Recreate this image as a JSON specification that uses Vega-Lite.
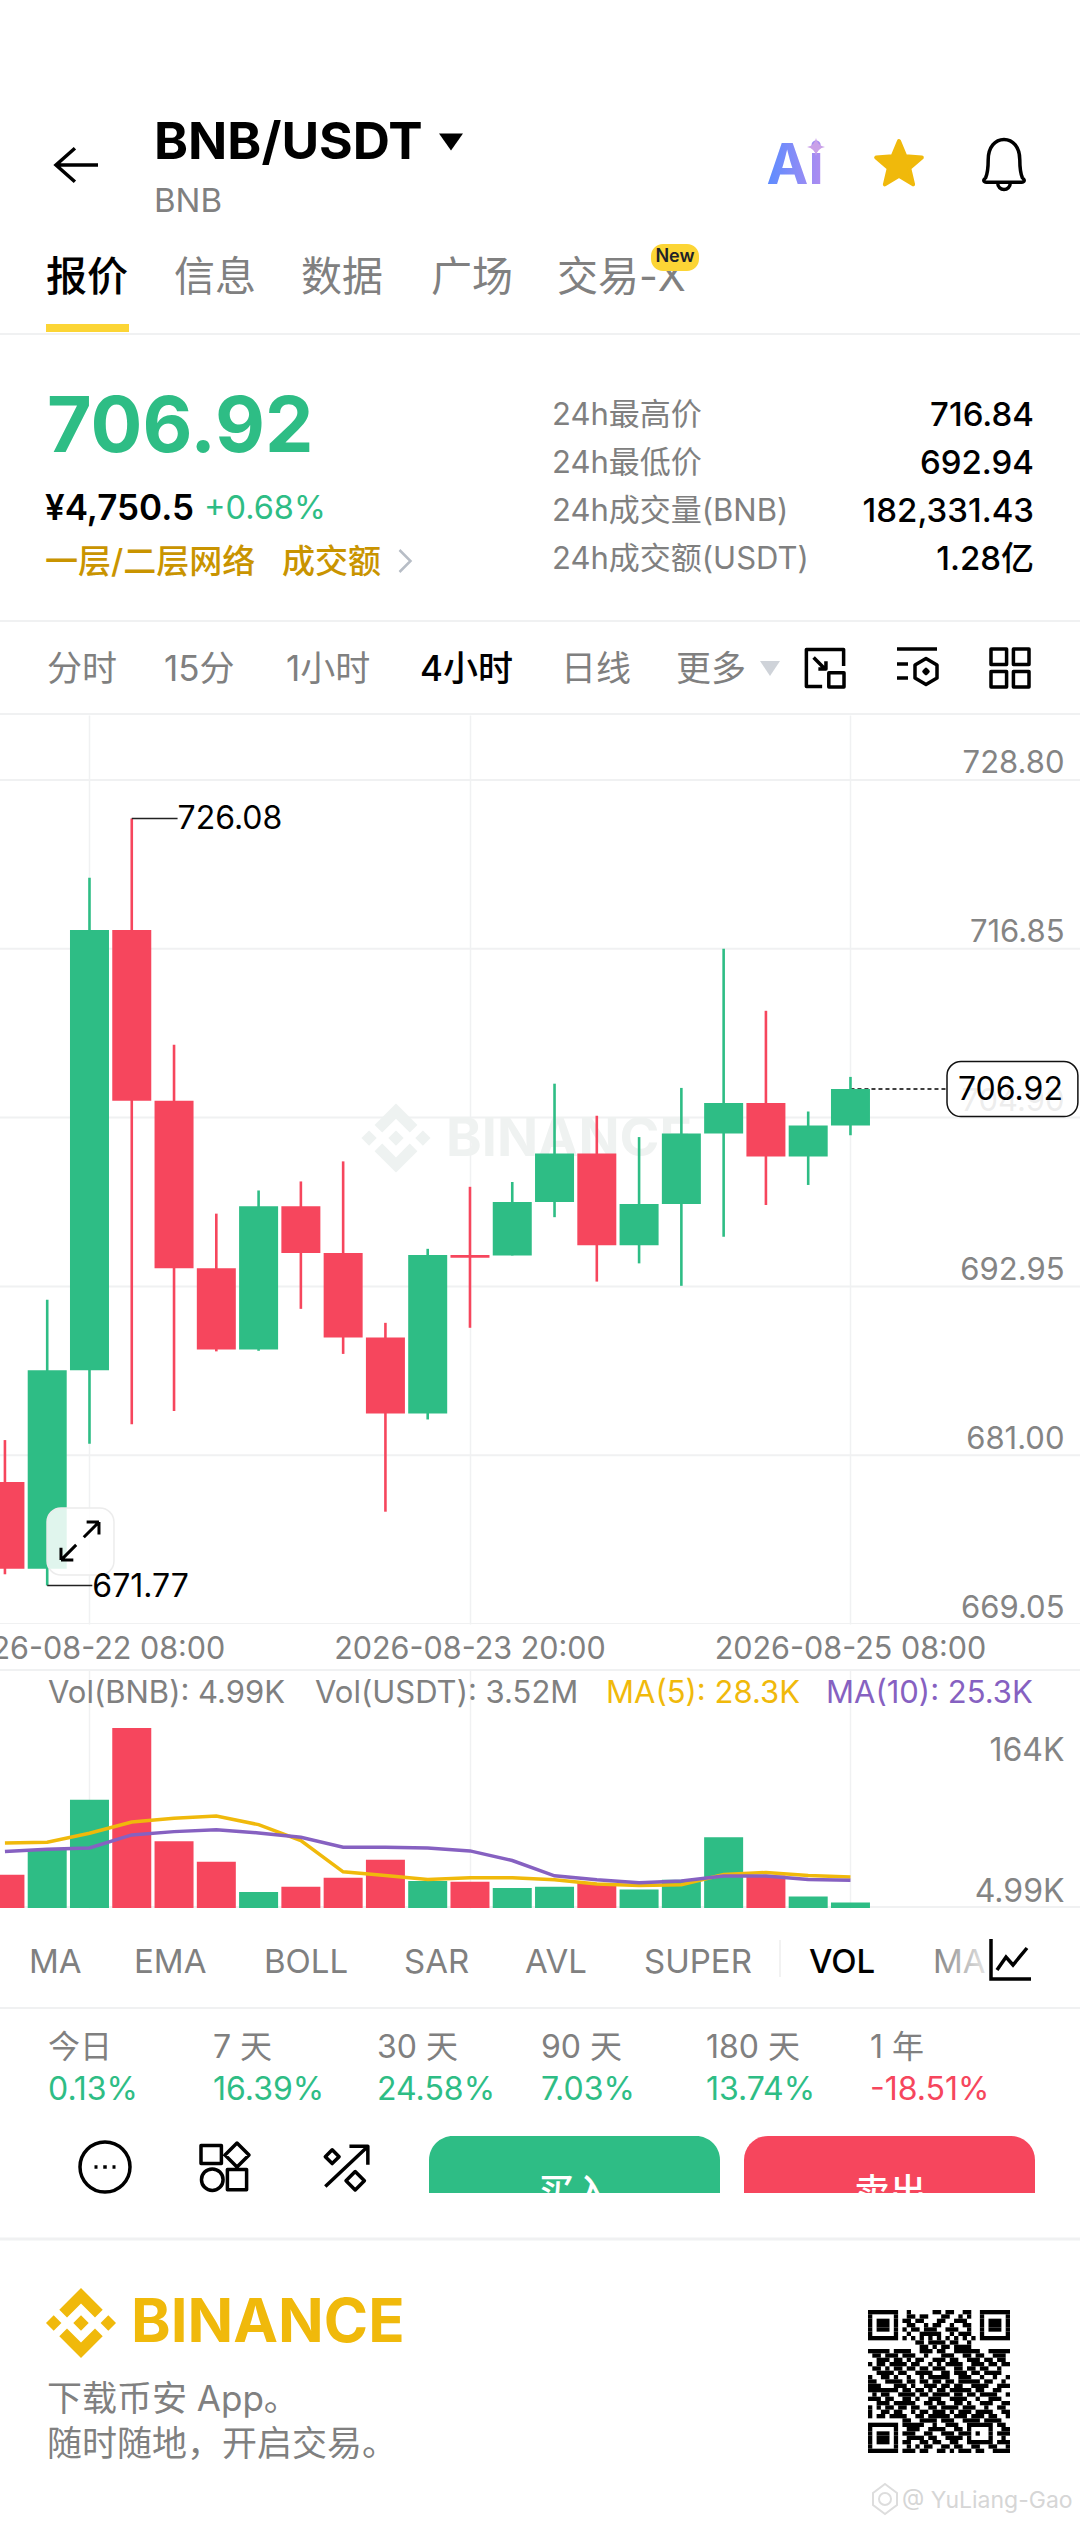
{
  "$schema": "https://vega.github.io/schema/vega-lite/v6.json",
  "padding": 0,
  "background": "#ffffff",
  "spacing": 0,
  "bounds": "flush",
  "config": {
    "view": {"stroke": null},
    "text": {"font": "Inter, 'Noto Sans CJK SC', sans-serif", "baseline": "middle", "align": "left", "dy": 2},
    "axis": {"labelFont": "Inter, 'Noto Sans CJK SC', sans-serif"}
  },
  "datasets": {
    "candles": [
      {"time": "2026-08-22T00:00:00", "open": 679.10, "close": 672.96, "high": 682.07, "low": 672.57, "vol": 30260, "ma5": 59310, "ma10": 51440},
      {"time": "2026-08-22T04:00:00", "open": 672.96, "close": 687.01, "high": 692.00, "low": 671.77, "vol": 53260, "ma5": 59910, "ma10": 53560},
      {"time": "2026-08-22T08:00:00", "open": 687.01, "close": 718.18, "high": 721.88, "low": 681.81, "vol": 98650, "ma5": 68090, "ma10": 54770},
      {"time": "2026-08-22T12:00:00", "open": 718.18, "close": 706.10, "high": 726.08, "low": 683.19, "vol": 164000, "ma5": 78370, "ma10": 66570},
      {"time": "2026-08-22T16:00:00", "open": 706.10, "close": 694.24, "high": 710.06, "low": 684.13, "vol": 60820, "ma5": 81700, "ma10": 69600},
      {"time": "2026-08-22T20:00:00", "open": 694.24, "close": 688.48, "high": 698.10, "low": 688.35, "vol": 42060, "ma5": 83820, "ma10": 71410},
      {"time": "2026-08-23T00:00:00", "open": 688.48, "close": 698.62, "high": 699.74, "low": 688.39, "vol": 14520, "ma5": 75950, "ma10": 68390},
      {"time": "2026-08-23T04:00:00", "open": 698.62, "close": 695.31, "high": 700.38, "low": 691.36, "vol": 19370, "ma5": 61430, "ma10": 64450},
      {"time": "2026-08-23T08:00:00", "open": 695.31, "close": 689.34, "high": 701.80, "low": 688.17, "vol": 27540, "ma5": 32980, "ma10": 55380},
      {"time": "2026-08-23T12:00:00", "open": 689.34, "close": 683.96, "high": 690.37, "low": 677.00, "vol": 43880, "ma5": 29650, "ma10": 55380},
      {"time": "2026-08-23T16:00:00", "open": 683.96, "close": 695.18, "high": 695.61, "low": 683.53, "vol": 24510, "ma5": 26020, "ma10": 54770},
      {"time": "2026-08-23T20:00:00", "open": 695.18, "close": 694.97, "high": 700.00, "low": 690.02, "vol": 23900, "ma5": 27540, "ma10": 52050},
      {"time": "2026-08-24T00:00:00", "open": 695.14, "close": 698.92, "high": 700.34, "low": 695.14, "vol": 18160, "ma5": 27540, "ma10": 43270},
      {"time": "2026-08-24T04:00:00", "open": 698.92, "close": 702.36, "high": 707.30, "low": 697.85, "vol": 19370, "ma5": 25720, "ma10": 29350},
      {"time": "2026-08-24T08:00:00", "open": 702.36, "close": 695.87, "high": 705.03, "low": 693.29, "vol": 22700, "ma5": 21790, "ma10": 25720},
      {"time": "2026-08-24T12:00:00", "open": 695.87, "close": 698.79, "high": 703.52, "low": 694.58, "vol": 16950, "ma5": 20580, "ma10": 23000},
      {"time": "2026-08-24T16:00:00", "open": 698.79, "close": 703.78, "high": 707.00, "low": 692.99, "vol": 25720, "ma5": 21180, "ma10": 24510},
      {"time": "2026-08-24T20:00:00", "open": 703.78, "close": 705.93, "high": 716.85, "low": 696.47, "vol": 64450, "ma5": 30560, "ma10": 29050},
      {"time": "2026-08-25T00:00:00", "open": 705.93, "close": 702.15, "high": 712.46, "low": 698.71, "vol": 29650, "ma5": 32380, "ma10": 29050},
      {"time": "2026-08-25T04:00:00", "open": 702.15, "close": 704.34, "high": 705.33, "low": 700.13, "vol": 10590, "ma5": 29650, "ma10": 26020},
      {"time": "2026-08-25T08:00:00", "open": 704.34, "close": 706.92, "high": 707.78, "low": 703.65, "vol": 4990, "ma5": 28300, "ma10": 25300}
    ],
    "qr": [
      {"r":0,"a":0,"b":7},{"r":0,"a":9,"b":10},{"r":0,"a":15,"b":17},{"r":0,"a":18,"b":20},{"r":0,"a":22,"b":24},{"r":0,"a":26,"b":33},
      {"r":1,"a":0,"b":1},{"r":1,"a":6,"b":7},{"r":1,"a":9,"b":11},{"r":1,"a":12,"b":14},{"r":1,"a":17,"b":19},{"r":1,"a":21,"b":22},{"r":1,"a":23,"b":24},{"r":1,"a":26,"b":27},{"r":1,"a":32,"b":33},
      {"r":2,"a":0,"b":1},{"r":2,"a":2,"b":5},{"r":2,"a":6,"b":7},{"r":2,"a":8,"b":10},{"r":2,"a":11,"b":13},{"r":2,"a":16,"b":18},{"r":2,"a":20,"b":23},{"r":2,"a":26,"b":27},{"r":2,"a":28,"b":31},{"r":2,"a":32,"b":33},
      {"r":3,"a":0,"b":1},{"r":3,"a":2,"b":5},{"r":3,"a":6,"b":7},{"r":3,"a":9,"b":11},{"r":3,"a":13,"b":14},{"r":3,"a":15,"b":17},{"r":3,"a":19,"b":20},{"r":3,"a":22,"b":24},{"r":3,"a":26,"b":27},{"r":3,"a":28,"b":31},{"r":3,"a":32,"b":33},
      {"r":4,"a":0,"b":1},{"r":4,"a":2,"b":5},{"r":4,"a":6,"b":7},{"r":4,"a":8,"b":9},{"r":4,"a":10,"b":12},{"r":4,"a":13,"b":16},{"r":4,"a":18,"b":21},{"r":4,"a":23,"b":24},{"r":4,"a":26,"b":27},{"r":4,"a":28,"b":31},{"r":4,"a":32,"b":33},
      {"r":5,"a":0,"b":1},{"r":5,"a":6,"b":7},{"r":5,"a":9,"b":10},{"r":5,"a":12,"b":17},{"r":5,"a":19,"b":20},{"r":5,"a":21,"b":24},{"r":5,"a":26,"b":27},{"r":5,"a":32,"b":33},
      {"r":6,"a":0,"b":7},{"r":6,"a":8,"b":9},{"r":6,"a":10,"b":11},{"r":6,"a":12,"b":13},{"r":6,"a":14,"b":15},{"r":6,"a":16,"b":17},{"r":6,"a":18,"b":19},{"r":6,"a":20,"b":21},{"r":6,"a":22,"b":23},{"r":6,"a":24,"b":25},{"r":6,"a":26,"b":33},
      {"r":7,"a":11,"b":13},{"r":7,"a":14,"b":18},{"r":7,"a":19,"b":21},{"r":7,"a":23,"b":24},
      {"r":8,"a":12,"b":14},{"r":8,"a":15,"b":16},{"r":8,"a":17,"b":19},{"r":8,"a":20,"b":24},
      {"r":9,"a":0,"b":5},{"r":9,"a":6,"b":10},{"r":9,"a":12,"b":15},{"r":9,"a":16,"b":18},{"r":9,"a":20,"b":26},{"r":9,"a":28,"b":33},
      {"r":10,"a":1,"b":3},{"r":10,"a":4,"b":7},{"r":10,"a":8,"b":11},{"r":10,"a":13,"b":14},{"r":10,"a":17,"b":20},{"r":10,"a":22,"b":24},{"r":10,"a":25,"b":27},{"r":10,"a":29,"b":32},
      {"r":11,"a":2,"b":5},{"r":11,"a":6,"b":8},{"r":11,"a":9,"b":10},{"r":11,"a":11,"b":13},{"r":11,"a":15,"b":18},{"r":11,"a":19,"b":21},{"r":11,"a":23,"b":26},{"r":11,"a":27,"b":29},{"r":11,"a":30,"b":32},
      {"r":12,"a":0,"b":1},{"r":12,"a":2,"b":4},{"r":12,"a":5,"b":9},{"r":12,"a":10,"b":12},{"r":12,"a":14,"b":15},{"r":12,"a":16,"b":17},{"r":12,"a":18,"b":22},{"r":12,"a":24,"b":27},{"r":12,"a":28,"b":30},{"r":12,"a":31,"b":33},
      {"r":13,"a":1,"b":3},{"r":13,"a":4,"b":5},{"r":13,"a":6,"b":8},{"r":13,"a":9,"b":11},{"r":13,"a":12,"b":14},{"r":13,"a":15,"b":18},{"r":13,"a":20,"b":22},{"r":13,"a":23,"b":25},{"r":13,"a":26,"b":28},{"r":13,"a":30,"b":31},
      {"r":14,"a":2,"b":6},{"r":14,"a":7,"b":9},{"r":14,"a":11,"b":15},{"r":14,"a":17,"b":19},{"r":14,"a":20,"b":23},{"r":14,"a":24,"b":26},{"r":14,"a":27,"b":31},
      {"r":15,"a":0,"b":1},{"r":15,"a":3,"b":5},{"r":15,"a":6,"b":7},{"r":15,"a":9,"b":10},{"r":15,"a":12,"b":13},{"r":15,"a":14,"b":19},{"r":15,"a":21,"b":24},{"r":15,"a":26,"b":27},{"r":15,"a":29,"b":30},{"r":15,"a":32,"b":33},
      {"r":16,"a":0,"b":2},{"r":16,"a":4,"b":8},{"r":16,"a":9,"b":11},{"r":16,"a":12,"b":14},{"r":16,"a":15,"b":17},{"r":16,"a":18,"b":20},{"r":16,"a":21,"b":26},{"r":16,"a":27,"b":29},{"r":16,"a":31,"b":32},
      {"r":17,"a":0,"b":3},{"r":17,"a":6,"b":9},{"r":17,"a":10,"b":11},{"r":17,"a":13,"b":16},{"r":17,"a":17,"b":19},{"r":17,"a":20,"b":22},{"r":17,"a":24,"b":28},{"r":17,"a":30,"b":33},
      {"r":18,"a":0,"b":7},{"r":18,"a":8,"b":10},{"r":18,"a":11,"b":13},{"r":18,"a":14,"b":15},{"r":18,"a":16,"b":18},{"r":18,"a":19,"b":24},{"r":18,"a":25,"b":27},{"r":18,"a":29,"b":31},
      {"r":19,"a":1,"b":2},{"r":19,"a":3,"b":5},{"r":19,"a":7,"b":11},{"r":19,"a":12,"b":14},{"r":19,"a":15,"b":19},{"r":19,"a":20,"b":22},{"r":19,"a":23,"b":25},{"r":19,"a":26,"b":30},{"r":19,"a":32,"b":33},
      {"r":20,"a":0,"b":3},{"r":20,"a":4,"b":6},{"r":20,"a":8,"b":10},{"r":20,"a":11,"b":12},{"r":20,"a":14,"b":17},{"r":20,"a":19,"b":23},{"r":20,"a":25,"b":26},{"r":20,"a":28,"b":31},
      {"r":21,"a":2,"b":5},{"r":21,"a":6,"b":11},{"r":21,"a":13,"b":15},{"r":21,"a":16,"b":18},{"r":21,"a":20,"b":22},{"r":21,"a":23,"b":24},{"r":21,"a":26,"b":29},{"r":21,"a":31,"b":33},
      {"r":22,"a":0,"b":1},{"r":22,"a":2,"b":3},{"r":22,"a":4,"b":6},{"r":22,"a":7,"b":9},{"r":22,"a":10,"b":12},{"r":22,"a":14,"b":16},{"r":22,"a":17,"b":21},{"r":22,"a":22,"b":25},{"r":22,"a":27,"b":28},{"r":22,"a":30,"b":32},
      {"r":23,"a":0,"b":1},{"r":23,"a":3,"b":5},{"r":23,"a":6,"b":8},{"r":23,"a":10,"b":11},{"r":23,"a":12,"b":14},{"r":23,"a":15,"b":18},{"r":23,"a":19,"b":20},{"r":23,"a":21,"b":24},{"r":23,"a":25,"b":29},{"r":23,"a":31,"b":33},
      {"r":24,"a":0,"b":1},{"r":24,"a":2,"b":4},{"r":24,"a":5,"b":9},{"r":24,"a":11,"b":13},{"r":24,"a":14,"b":19},{"r":24,"a":20,"b":23},{"r":24,"a":24,"b":27},{"r":24,"a":28,"b":30},{"r":24,"a":32,"b":33},
      {"r":25,"a":8,"b":10},{"r":25,"a":12,"b":16},{"r":25,"a":17,"b":20},{"r":25,"a":22,"b":26},{"r":25,"a":27,"b":31},
      {"r":26,"a":0,"b":7},{"r":26,"a":8,"b":13},{"r":26,"a":15,"b":16},{"r":26,"a":18,"b":21},{"r":26,"a":23,"b":29},{"r":26,"a":30,"b":32},
      {"r":27,"a":0,"b":1},{"r":27,"a":6,"b":7},{"r":27,"a":9,"b":12},{"r":27,"a":14,"b":18},{"r":27,"a":20,"b":22},{"r":27,"a":23,"b":24},{"r":27,"a":28,"b":29},{"r":27,"a":31,"b":33},
      {"r":28,"a":0,"b":1},{"r":28,"a":2,"b":5},{"r":28,"a":6,"b":7},{"r":28,"a":8,"b":11},{"r":28,"a":13,"b":15},{"r":28,"a":17,"b":20},{"r":28,"a":21,"b":24},{"r":28,"a":25,"b":26},{"r":28,"a":28,"b":29},{"r":28,"a":30,"b":33},
      {"r":29,"a":0,"b":1},{"r":29,"a":2,"b":5},{"r":29,"a":6,"b":7},{"r":29,"a":9,"b":13},{"r":29,"a":14,"b":16},{"r":29,"a":18,"b":22},{"r":29,"a":23,"b":24},{"r":29,"a":28,"b":29},{"r":29,"a":31,"b":32},
      {"r":30,"a":0,"b":1},{"r":30,"a":2,"b":5},{"r":30,"a":6,"b":7},{"r":30,"a":8,"b":10},{"r":30,"a":12,"b":14},{"r":30,"a":15,"b":17},{"r":30,"a":19,"b":21},{"r":30,"a":23,"b":29},{"r":30,"a":30,"b":33},
      {"r":31,"a":0,"b":1},{"r":31,"a":6,"b":7},{"r":31,"a":9,"b":10},{"r":31,"a":11,"b":12},{"r":31,"a":13,"b":15},{"r":31,"a":17,"b":19},{"r":31,"a":20,"b":22},{"r":31,"a":24,"b":26},{"r":31,"a":28,"b":30},{"r":31,"a":32,"b":33},
      {"r":32,"a":0,"b":7},{"r":32,"a":8,"b":11},{"r":32,"a":12,"b":14},{"r":32,"a":16,"b":18},{"r":32,"a":19,"b":20},{"r":32,"a":21,"b":24},{"r":32,"a":25,"b":27},{"r":32,"a":29,"b":33}
    ]
  },
  "vconcat": [
    {
      "width": 1080,
      "height": 335,
      "encoding": {
        "x": {"field": "col", "type": "quantitative", "axis": null, "scale": {"domain": [0,1,2,3,4,5,6,7,8,9,10,11,12,13,14,15,16,17], "range": [77,154,451,795,816,899,1004,46,129,174,301,431,557,651,699,675,0,1080]}},
        "y": {"field": "line", "type": "quantitative", "axis": null, "scale": {"domain": [0,1,2,3,4,5,6,7,8,9,10], "range": [142,200,165,147,277,324,332,257,244,271,334]}}
      },
      "layer": [
        {"data": {"values": [{"col": 16, "col2": 17, "line": 10}]}, "mark": {"type": "rule", "color": "#f0f1f2", "strokeWidth": 2, "clip": true}, "encoding": {"x2": {"field": "col2"}}},
        {"data": {"values": [{"col": 7, "col2": 8, "line": 5, "line2": 6}]}, "mark": {"type": "rect", "color": "#fcd535"}, "encoding": {"x2": {"field": "col2"}, "y2": {"field": "line2"}}},
        {"data": {"values": [{"col": 0, "line": 2}]}, "mark": {"type": "point", "shape": "M1,0 L-1,0 M-.1,-.8 L-1,0 L-.1,.8", "size": 1764, "filled": false, "color": "#000", "strokeWidth": 3.5, "opacity": 1}},
        {"data": {"values": [{"col": 1, "line": 0, "label": "BNB/USDT"}]}, "mark": {"type": "text", "fontSize": 51.5, "fontWeight": "bold", "color": "#000"}, "encoding": {"text": {"field": "label"}}},
        {"data": {"values": [{"col": 2, "line": 0}]}, "mark": {"type": "point", "shape": "M-1,-.7 L1,-.7 L0,.7Z", "size": 576, "filled": true, "color": "#000", "opacity": 1}},
        {"data": {"values": [{"col": 1, "line": 1, "label": "BNB"}]}, "mark": {"type": "text", "fontSize": 33, "color": "#808080"}, "encoding": {"text": {"field": "label"}}},
        {"data": {"values": [{"col": 3, "line": 2, "label": "Ai"}]}, "mark": {"type": "text", "fontSize": 56, "fontWeight": "bold", "align": "center", "color": {"gradient": "linear", "x1": 0, "y1": 0, "x2": 1, "y2": 0, "stops": [{"offset": 0, "color": "#5b8cff"}, {"offset": 1, "color": "#b08cf0"}]}}, "encoding": {"text": {"field": "label"}}},
        {"data": {"values": [{"col": 4, "line": 3}]}, "mark": {"type": "point", "shape": "M0,-1 Q.15,-.15 1,0 Q.15,.15 0,1 Q-.15,.15 -1,0 Q-.15,-.15 0,-1Z", "size": 324, "filled": true, "color": "#c9a0e8", "opacity": 1}},
        {"data": {"values": [{"col": 5, "line": 2}]}, "mark": {"type": "point", "shape": "M0,-1 L.264,-.363 L.951,-.309 L.428,.139 L.588,.809 L0,.45 L-.588,.809 L-.428,.139 L-.951,-.309 L-.264,-.363Z", "size": 2304, "filled": true, "color": "#f0b90b", "stroke": "#f0b90b", "strokeWidth": 4, "strokeJoin": "round", "opacity": 1}},
        {"data": {"values": [{"col": 6, "line": 2}]}, "mark": {"type": "point", "shape": "M-.72,.5 C-.72,.5 -.62,.25 -.62,-.2 C-.62,-.7 -.35,-1 0,-1 C.35,-1 .62,-.7 .62,-.2 C.62,.25 .72,.5 .72,.5 C.85,.62 .8,.68 .6,.68 L-.6,.68 C-.8,.68 -.85,.62 -.72,.5Z M-.25,.68 C-.25,1.05 .25,1.05 .25,.68", "size": 2600, "filled": false, "color": "#000", "strokeWidth": 3.5, "opacity": 1}},
        {"data": {"values": [{"col": 7, "line": 4, "label": "报价"}]}, "mark": {"type": "text", "fontSize": 41, "fontWeight": 500, "color": "#000"}, "encoding": {"text": {"field": "label"}}},
        {"data": {"values": [{"col": 9, "line": 4, "label": "信息"}, {"col": 10, "line": 4, "label": "数据"}, {"col": 11, "line": 4, "label": "广场"}, {"col": 12, "line": 4, "label": "交易-X"}]}, "mark": {"type": "text", "fontSize": 41, "color": "#808080"}, "encoding": {"text": {"field": "label"}}},
        {"data": {"values": [{"col": 13, "col2": 14, "line": 8, "line2": 9}]}, "mark": {"type": "rect", "color": "#fcd535", "cornerRadius": 12}, "encoding": {"x2": {"field": "col2"}, "y2": {"field": "line2"}}},
        {"data": {"values": [{"col": 15, "line": 7, "label": "New"}]}, "mark": {"type": "text", "fontSize": 18, "fontWeight": 600, "align": "center", "color": "#1e2329", "dy": 0}, "encoding": {"text": {"field": "label"}}}
      ]
    },
    {
      "width": 1080,
      "height": 287,
      "encoding": {
        "x": {"field": "col", "type": "quantitative", "axis": null, "scale": {"domain": [0,1,2,3,4,5,6,7,8,9], "range": [47,204,282,405,552,1034,0,1080,267,45]}},
        "y": {"field": "line", "type": "quantitative", "axis": null, "scale": {"domain": [0,1,2,3,4,5,6,7], "range": [90,172,226,79,127,175,223,286]}}
      },
      "layer": [
        {"data": {"values": [{"col": 6, "col2": 7, "line": 7}]}, "mark": {"type": "rule", "color": "#f0f1f2", "strokeWidth": 2, "clip": true}, "encoding": {"x2": {"field": "col2"}}},
        {"data": {"values": [{"col": 0, "line": 0, "label": "706.92"}]}, "mark": {"type": "text", "fontSize": 77, "fontWeight": "bold", "color": "#2ebd85", "dy": 4}, "encoding": {"text": {"field": "label"}}},
        {"data": {"values": [{"col": 9, "line": 1, "label": "¥4,750.5"}]}, "mark": {"type": "text", "fontSize": 35, "fontWeight": 600, "color": "#000"}, "encoding": {"text": {"field": "label"}}},
        {"data": {"values": [{"col": 1, "line": 1, "label": "+0.68%"}]}, "mark": {"type": "text", "fontSize": 32.5, "color": "#2ebd85"}, "encoding": {"text": {"field": "label"}}},
        {"data": {"values": [{"col": 9, "line": 2, "label": "一层/二层网络"}, {"col": 2, "line": 2, "label": "成交额"}]}, "mark": {"type": "text", "fontSize": 33, "fontWeight": 500, "color": "#c99400"}, "encoding": {"text": {"field": "label"}}},
        {"data": {"values": [{"col": 3, "line": 2}]}, "mark": {"type": "point", "shape": "M-.5,-1 L.5,0 L-.5,1", "size": 484, "filled": false, "color": "#b7bdc6", "strokeWidth": 2.5, "opacity": 1}},
        {"data": {"values": [{"col": 4, "line": 3, "label": "24h最高价"}, {"col": 4, "line": 4, "label": "24h最低价"}, {"col": 4, "line": 5, "label": "24h成交量(BNB)"}, {"col": 4, "line": 6, "label": "24h成交额(USDT)"}]}, "mark": {"type": "text", "fontSize": 31, "color": "#808080"}, "encoding": {"text": {"field": "label"}}},
        {"data": {"values": [{"col": 5, "line": 3, "label": "716.84"}, {"col": 5, "line": 4, "label": "692.94"}, {"col": 5, "line": 5, "label": "182,331.43"}, {"col": 5, "line": 6, "label": "1.28亿"}]}, "mark": {"type": "text", "fontSize": 33, "fontWeight": 500, "align": "right", "color": "#000"}, "encoding": {"text": {"field": "label"}}}
      ]
    },
    {
      "width": 1080,
      "height": 93,
      "encoding": {
        "x": {"field": "col", "type": "quantitative", "axis": null, "scale": {"domain": [0,1,2,3,4,5,6,7,8,9,10,11], "range": [47,164,286,420,561,676,770,825,917,1010,0,1080]}},
        "y": {"field": "line", "type": "quantitative", "axis": null, "scale": {"domain": [0,1], "range": [46,92]}}
      },
      "layer": [
        {"data": {"values": [{"col": 10, "col2": 11, "line": 1}]}, "mark": {"type": "rule", "color": "#f0f1f2", "strokeWidth": 2, "clip": true}, "encoding": {"x2": {"field": "col2"}}},
        {"data": {"values": [{"col": 0, "line": 0, "label": "分时"}, {"col": 1, "line": 0, "label": "15分"}, {"col": 2, "line": 0, "label": "1小时"}, {"col": 4, "line": 0, "label": "日线"}, {"col": 5, "line": 0, "label": "更多"}]}, "mark": {"type": "text", "fontSize": 35, "color": "#808080"}, "encoding": {"text": {"field": "label"}}},
        {"data": {"values": [{"col": 3, "line": 0, "label": "4小时"}]}, "mark": {"type": "text", "fontSize": 35, "fontWeight": 500, "color": "#000"}, "encoding": {"text": {"field": "label"}}},
        {"data": {"values": [{"col": 6, "line": 0}]}, "mark": {"type": "point", "shape": "M-1,-.7 L1,-.7 L0,.8Z", "size": 400, "filled": true, "color": "#cfd3d9", "opacity": 1}},
        {"data": {"values": [{"col": 7, "line": 0}]}, "mark": {"type": "point", "shape": "M.98,-.1 V-.98 H-.98 V.98 H-.15 M.2,.25 H1 V1 H.2Z M-.6,-.55 L0,.05 M-.35,.05 H.05 V-.35", "size": 1444, "filled": false, "color": "#000", "strokeWidth": 3.5, "strokeJoin": "round", "opacity": 1}},
        {"data": {"values": [{"col": 8, "line": 0}]}, "mark": {"type": "point", "shape": "M-1,-.95 H1 M-1,-.2 H-.45 M-1,.5 H-.45 M.45,-.47 L1,-.15 L1,.5 L.45,.82 L-.1,.5 L-.1,-.15Z M.45,.07 L.55,.17 L.45,.27 L.35,.17Z", "size": 1600, "filled": false, "color": "#000", "strokeWidth": 3.5, "strokeJoin": "round", "opacity": 1}},
        {"data": {"values": [{"col": 9, "line": 0}]}, "mark": {"type": "point", "shape": "M-1,-1H-.18V-.18H-1Z M.18,-1H1V-.18H.18Z M-1,.18H-.18V1H-1Z M.18,.18H1V1H.18Z", "size": 1444, "filled": false, "color": "#000", "strokeWidth": 3.5, "strokeJoin": "round", "opacity": 1}}
      ]
    },
    {
      "width": 1080,
      "height": 909,
      "encoding": {
        "x": {
          "field": "time",
          "type": "temporal",
          "scale": {"padding": 0, "domain": [{"year": 2026, "month": 8, "date": 21, "hours": 23, "minutes": 32}, {"year": 2026, "month": 8, "date": 26, "hours": 5, "minutes": 43}]},
          "axis": {
            "title": null,
            "labels": false,
            "ticks": false,
            "domain": false,
            "grid": true,
            "gridColor": "#f0f1f2",
            "gridWidth": 1.5,
            "values": [{"year": 2026, "month": 8, "date": 22, "hours": 8}, {"year": 2026, "month": 8, "date": 23, "hours": 20}, {"year": 2026, "month": 8, "date": 25, "hours": 8}]
          }
        },
        "y": {
          "field": "price",
          "type": "quantitative",
          "scale": {"domain": [669.05, 733.4]},
          "axis": {"title": null, "orient": "right", "values": [669.05, 681, 692.95, 704.9, 716.85, 728.8], "format": ".2f", "domain": false, "ticks": false, "tickSize": 0, "labelPadding": -16, "labelAlign": "right", "labelBaseline": "middle", "labelOffset": -16, "labelFontSize": 31, "labelColor": "#848484", "labelOverlap": false, "labelBound": false, "grid": false}
        }
      },
      "layer": [
        {
          "data": {"values": [
            {"time": "2026-08-21T23:32:00", "time2": "2026-08-26T05:43:00", "price": 669.05},
            {"time": "2026-08-21T23:32:00", "time2": "2026-08-26T05:43:00", "price": 681},
            {"time": "2026-08-21T23:32:00", "time2": "2026-08-26T05:43:00", "price": 692.95},
            {"time": "2026-08-21T23:32:00", "time2": "2026-08-26T05:43:00", "price": 704.9},
            {"time": "2026-08-21T23:32:00", "time2": "2026-08-26T05:43:00", "price": 716.85},
            {"time": "2026-08-21T23:32:00", "time2": "2026-08-26T05:43:00", "price": 728.8}
          ]},
          "mark": {"type": "rule", "color": "#f0f1f2", "strokeWidth": 2, "clip": true},
          "encoding": {"x2": {"field": "time2"}}
        },
        {"data": {"values": [{"time": "2026-08-23T13:00:00", "price": 703.45}]}, "mark": {"type": "point", "shape": "M0,-.22L.22,0L0,.22L-.22,0Z M-.78,-.22L-.56,0L-.78,.22L-1,0Z M.78,-.22L1,0L.78,.22L.56,0Z M0,-1L.62,-.38L.4,-.16L0,-.56L-.4,-.16L-.62,-.38Z M0,1L.62,.38L.4,.16L0,.56L-.4,.16L-.62,.38Z", "size": 4761, "filled": true, "color": "#eef2f1", "opacity": 1}},
        {"data": {"values": [{"time": "2026-08-23T17:44:00", "price": 703.45, "label": "BINANCE"}]}, "mark": {"type": "text", "fontSize": 54, "fontWeight": "bold", "color": "#eff2f1"}, "encoding": {"text": {"field": "label"}}},
        {"data": {"values": [{"time": "2026-08-25T08:00:00", "time2": "2026-08-25T17:08:00", "price": 706.92}]}, "mark": {"type": "rule", "color": "#000", "strokeWidth": 1.5, "strokeDash": [4, 3]}, "encoding": {"x2": {"field": "time2"}}},
        {
          "data": {"name": "candles"},
          "mark": {"type": "rule", "strokeWidth": 2.6, "clip": true},
          "encoding": {
            "y": {"field": "low", "type": "quantitative", "scale": {"domain": [669.05, 733.4]}, "axis": {"title": null, "orient": "right", "values": [669.05, 681, 692.95, 704.9, 716.85, 728.8], "format": ".2f", "domain": false, "ticks": false, "tickSize": 0, "labelPadding": -16, "labelAlign": "right", "labelBaseline": "middle", "labelOffset": -16, "labelFontSize": 31, "labelColor": "#848484", "labelOverlap": false, "labelBound": false, "grid": false}},
            "y2": {"field": "high"},
            "color": {"condition": {"test": "datum.close >= datum.open", "value": "#2ebd85"}, "value": "#f6465d"}
          }
        },
        {
          "data": {"name": "candles"},
          "mark": {"type": "bar", "size": 39, "clip": true},
          "encoding": {
            "y": {"field": "open", "type": "quantitative", "scale": {"domain": [669.05, 733.4]}, "axis": {"title": null, "orient": "right", "values": [669.05, 681, 692.95, 704.9, 716.85, 728.8], "format": ".2f", "domain": false, "ticks": false, "tickSize": 0, "labelPadding": -16, "labelAlign": "right", "labelBaseline": "middle", "labelOffset": -16, "labelFontSize": 31, "labelColor": "#848484", "labelOverlap": false, "labelBound": false, "grid": false}},
            "y2": {"field": "close"},
            "color": {"condition": {"test": "datum.close >= datum.open", "value": "#2ebd85"}, "value": "#f6465d"}
          }
        },
        {"data": {"values": [{"time": "2026-08-22T12:00:00", "time2": "2026-08-22T16:20:00", "price": 726.08}, {"time": "2026-08-22T04:00:00", "time2": "2026-08-22T08:16:00", "price": 671.77}]}, "mark": {"type": "rule", "color": "#222", "strokeWidth": 1.5}, "encoding": {"x2": {"field": "time2"}}},
        {"data": {"values": [{"time": "2026-08-22T03:59:00", "time2": "2026-08-22T10:19:00", "price": 677.26, "price2": 672.52}]}, "mark": {"type": "rect", "fill": "#ffffff", "fillOpacity": 0.85, "stroke": "#ececec", "strokeWidth": 1.5, "cornerRadius": 14}, "encoding": {"x2": {"field": "time2"}, "y2": {"field": "price2"}}},
        {"data": {"values": [{"time": "2026-08-22T07:06:00", "price": 674.92}]}, "mark": {"type": "point", "shape": "M-1,1 L-.2,.2 M-1,1 H-.35 M-1,1 V.35 M1,-1 L.2,-.2 M1,-1 H.35 M1,-1 V-.35", "size": 1444, "filled": false, "color": "#000", "strokeWidth": 3, "opacity": 1}},
        {"data": {"values": [{"time": "2026-08-22T16:20:00", "price": 726.08, "label": "726.08"}, {"time": "2026-08-22T08:16:00", "price": 671.77, "label": "671.77"}]}, "mark": {"type": "text", "fontSize": 32, "color": "#000", "dy": 1}, "encoding": {"text": {"field": "label"}}},
        {"data": {"values": [{"time": "2026-08-25T17:08:00", "time2": "2026-08-26T05:31:00", "price": 708.87, "price2": 704.97}]}, "mark": {"type": "rect", "fill": "#ffffff", "fillOpacity": 0.85, "stroke": "#111", "strokeWidth": 1.5, "cornerRadius": 14}, "encoding": {"x2": {"field": "time2"}, "y2": {"field": "price2"}}},
        {"data": {"values": [{"time": "2026-08-26T04:06:00", "price": 706.92, "label": "706.92"}]}, "mark": {"type": "text", "fontSize": 32, "align": "right", "color": "#000", "dy": 1}, "encoding": {"text": {"field": "label"}}}
      ]
    },
    {
      "width": 1080,
      "height": 45,
      "data": {"values": [{"time": "2026-08-22T08:00:00"}, {"time": "2026-08-23T20:00:00"}, {"time": "2026-08-25T08:00:00"}]},
      "mark": {"type": "text", "fontSize": 30.5, "align": "center", "color": "#808080", "clip": true, "dy": 3},
      "encoding": {
        "x": {
          "field": "time",
          "type": "temporal",
          "scale": {"padding": 0, "domain": [{"year": 2026, "month": 8, "date": 21, "hours": 23, "minutes": 32}, {"year": 2026, "month": 8, "date": 26, "hours": 5, "minutes": 43}]},
          "axis": null
        },
        "text": {"field": "time", "type": "temporal", "format": "%Y-%m-%d %H:%M"}
      }
    },
    {
      "width": 1080,
      "height": 239,
      "resolve": {"scale": {"x": "independent", "y": "independent", "color": "independent"}},
      "layer": [
        {
          "data": {"name": "candles"},
          "encoding": {
            "x": {
              "field": "time",
              "type": "temporal",
              "scale": {"padding": 0, "domain": [{"year": 2026, "month": 8, "date": 21, "hours": 23, "minutes": 32}, {"year": 2026, "month": 8, "date": 26, "hours": 5, "minutes": 43}]},
              "axis": {
                "title": null,
                "labels": false,
                "ticks": false,
                "domain": false,
                "grid": true,
                "gridColor": "#f0f1f2",
                "gridWidth": 1.5,
                "values": [{"year": 2026, "month": 8, "date": 22, "hours": 8}, {"year": 2026, "month": 8, "date": 23, "hours": 20}, {"year": 2026, "month": 8, "date": 25, "hours": 8}]
              }
            }
          },
          "layer": [
            {
              "data": {"values": [{"time": "2026-08-21T23:32:00", "time2": "2026-08-26T05:43:00", "vol": 0}, {"time": "2026-08-21T23:32:00", "time2": "2026-08-26T05:43:00", "vol": 217800}]},
              "mark": {"type": "rule", "color": "#f0f1f2", "strokeWidth": 4, "clip": true},
              "encoding": {
                "x2": {"field": "time2"},
                "y": {"field": "vol", "type": "quantitative", "scale": {"domain": [0, 217800]}, "axis": {"title": null, "orient": "right", "values": [164000, 4990], "labelExpr": "datum.value > 100000 ? '164K' : '4.99K'", "domain": false, "ticks": false, "tickSize": 0, "grid": false, "labelPadding": -16, "labelAlign": "right", "labelBaseline": "middle", "labelOffset": {"condition": {"test": "datum.value > 100000", "value": 22}, "value": -11}, "labelFontSize": 32, "labelColor": "#848484", "labelOverlap": false, "labelBound": false}}
              }
            },
            {
              "mark": {"type": "bar", "size": 39, "clip": true},
              "encoding": {
                "y": {"field": "vol", "type": "quantitative", "scale": {"domain": [0, 217800]}, "axis": {"title": null, "orient": "right", "values": [164000, 4990], "labelExpr": "datum.value > 100000 ? '164K' : '4.99K'", "domain": false, "ticks": false, "tickSize": 0, "grid": false, "labelPadding": -16, "labelAlign": "right", "labelBaseline": "middle", "labelOffset": {"condition": {"test": "datum.value > 100000", "value": 22}, "value": -11}, "labelFontSize": 32, "labelColor": "#848484", "labelOverlap": false, "labelBound": false}},
                "color": {"condition": {"test": "datum.close >= datum.open", "value": "#2ebd85"}, "value": "#f6465d"}
              }
            },
            {
              "transform": [{"fold": ["ma5", "ma10"], "as": ["series", "ma"]}],
              "mark": {"type": "line", "strokeWidth": 3.5, "interpolate": "linear", "clip": true},
              "encoding": {
                "y": {"field": "ma", "type": "quantitative", "scale": {"domain": [0, 217800]}, "axis": {"title": null, "orient": "right", "values": [164000, 4990], "labelExpr": "datum.value > 100000 ? '164K' : '4.99K'", "domain": false, "ticks": false, "tickSize": 0, "grid": false, "labelPadding": -16, "labelAlign": "right", "labelBaseline": "middle", "labelOffset": {"condition": {"test": "datum.value > 100000", "value": 22}, "value": -11}, "labelFontSize": 32, "labelColor": "#848484", "labelOverlap": false, "labelBound": false}},
                "color": {"field": "series", "type": "nominal", "legend": null, "scale": {"domain": ["ma5", "ma10"], "range": ["#f0b90b", "#8661c1"]}}
              }
            }
          ]
        },
        {
          "data": {"values": [{"col": 0, "label": "Vol(BNB): 4.99K", "series": "vol"}, {"col": 1, "label": "Vol(USDT): 3.52M", "series": "vol"}, {"col": 2, "label": "MA(5): 28.3K", "series": "ma5"}, {"col": 3, "label": "MA(10): 25.3K", "series": "ma10"}]},
          "mark": {"type": "text", "fontSize": 31},
          "encoding": {
            "x": {"field": "col", "type": "quantitative", "axis": null, "scale": {"domain": [0, 1, 2, 3], "range": [48, 315, 606, 826]}},
            "y": {"datum": 0, "type": "quantitative", "axis": null, "scale": {"domain": [0, 1], "range": [23, 24]}},
            "text": {"field": "label"},
            "color": {"field": "series", "type": "nominal", "legend": null, "scale": {"domain": ["vol", "ma5", "ma10"], "range": ["#808080", "#f0b90b", "#8661c1"]}}
          }
        }
      ]
    },
    {
      "width": 1080,
      "height": 101,
      "encoding": {
        "x": {"field": "col", "type": "quantitative", "axis": null, "scale": {"domain": [0,1,2,3,4,5,6,7,8,9,10,11], "range": [29,134,264,404,525,644,780,809,933,1011,0,1080]}},
        "y": {"field": "line", "type": "quantitative", "axis": null, "scale": {"domain": [0,1,2,3,4], "range": [53,51,32,69,100]}}
      },
      "layer": [
        {"data": {"values": [{"col": 10, "col2": 11, "line": 4}]}, "mark": {"type": "rule", "color": "#f0f1f2", "strokeWidth": 2, "clip": true}, "encoding": {"x2": {"field": "col2"}}},
        {"data": {"values": [{"col": 6, "line": 2, "line2": 3}]}, "mark": {"type": "rule", "color": "#eeeeee", "strokeWidth": 1.5}, "encoding": {"y2": {"field": "line2"}}},
        {"data": {"values": [{"col": 0, "line": 0, "label": "MA"}, {"col": 1, "line": 0, "label": "EMA"}, {"col": 2, "line": 0, "label": "BOLL"}, {"col": 3, "line": 0, "label": "SAR"}, {"col": 4, "line": 0, "label": "AVL"}, {"col": 5, "line": 0, "label": "SUPER"}]}, "mark": {"type": "text", "fontSize": 33, "color": "#808080"}, "encoding": {"text": {"field": "label"}}},
        {"data": {"values": [{"col": 7, "line": 0, "label": "VOL"}]}, "mark": {"type": "text", "fontSize": 33, "fontWeight": 500, "color": "#000"}, "encoding": {"text": {"field": "label"}}},
        {"data": {"values": [{"col": 8, "line": 0, "label": "MA"}]}, "mark": {"type": "text", "fontSize": 33, "color": {"gradient": "linear", "x1": 0, "y1": 0, "x2": 1, "y2": 0, "stops": [{"offset": 0, "color": "#808080"}, {"offset": 1, "color": "#e4e4e4"}]}}, "encoding": {"text": {"field": "label"}}},
        {"data": {"values": [{"col": 9, "line": 1}]}, "mark": {"type": "point", "shape": "M-1,-1 V1 H1 M-.7,.55 L-.25,-.1 L.1,.3 L.8,-.55", "size": 1600, "filled": false, "color": "#000", "strokeWidth": 3.5, "opacity": 1}}
      ]
    },
    {
      "width": 1080,
      "height": 121,
      "encoding": {
        "x": {"field": "col", "type": "quantitative", "axis": null, "scale": {"domain": [0,1,2,3,4,5], "range": [48,213,377,541,706,870]}},
        "y": {"field": "line", "type": "quantitative", "axis": null, "scale": {"domain": [0,1], "range": [37,79]}}
      },
      "layer": [
        {"data": {"values": [{"col": 0, "line": 0, "label": "今日"}, {"col": 1, "line": 0, "label": "7 天"}, {"col": 2, "line": 0, "label": "30 天"}, {"col": 3, "line": 0, "label": "90 天"}, {"col": 4, "line": 0, "label": "180 天"}, {"col": 5, "line": 0, "label": "1 年"}]}, "mark": {"type": "text", "fontSize": 32, "color": "#808080"}, "encoding": {"text": {"field": "label"}}},
        {"data": {"values": [{"col": 0, "line": 1, "label": "0.13%"}, {"col": 1, "line": 1, "label": "16.39%"}, {"col": 2, "line": 1, "label": "24.58%"}, {"col": 3, "line": 1, "label": "7.03%"}, {"col": 4, "line": 1, "label": "13.74%"}]}, "mark": {"type": "text", "fontSize": 32, "color": "#2ebd85"}, "encoding": {"text": {"field": "label"}}},
        {"data": {"values": [{"col": 5, "line": 1, "label": "-18.51%"}]}, "mark": {"type": "text", "fontSize": 32, "color": "#f6465d"}, "encoding": {"text": {"field": "label"}}}
      ]
    },
    {
      "width": 1080,
      "height": 63,
      "encoding": {
        "x": {"field": "col", "type": "quantitative", "axis": null, "scale": {"domain": [0,1,2,3,4,5,6,7,8], "range": [105,225,346,429,720,574,744,1035,890]}},
        "y": {"field": "line", "type": "quantitative", "axis": null, "scale": {"domain": [0,1,2,3], "range": [37,6,63,62]}}
      },
      "layer": [
        {"data": {"values": [{"col": 0, "line": 0}]}, "mark": {"type": "point", "shape": "M1,0 A1,1 0 1,1 -1,0 A1,1 0 1,1 1,0Z M-.42,0 H-.3 M-.07,0 H.07 M.3,0 H.42", "size": 2500, "filled": false, "color": "#000", "strokeWidth": 3.5, "opacity": 1}},
        {"data": {"values": [{"col": 1, "line": 0}]}, "mark": {"type": "point", "shape": "M-1,-.9 H-.15 V-.15 H-1Z M.5,-1 L1,-.5 L.5,0 L0,-.5Z M-.08,.53 A.45,.45 0 1,1 -.98,.53 A.45,.45 0 1,1 -.08,.53Z M.1,.1 H.9 V.95 H.1Z", "size": 2304, "filled": false, "color": "#000", "strokeWidth": 3.5, "strokeJoin": "round", "opacity": 1}},
        {"data": {"values": [{"col": 2, "line": 0}]}, "mark": {"type": "point", "shape": "M-.9,.85 L.9,-.85 M.15,-.9 H.95 V-.1 M-.6,-.75 L-.3,-.45 L-.6,-.15 L-.9,-.45Z M.4,.2 L.8,.6 L.4,1 L0,.6Z", "size": 2116, "filled": false, "color": "#000", "strokeWidth": 3.5, "strokeJoin": "round", "opacity": 1}},
        {"data": {"values": [{"col": 3, "col2": 4, "line": 1, "line2": 2}]}, "mark": {"type": "rect", "color": "#2ebd85", "cornerRadiusTopLeft": 24, "cornerRadiusTopRight": 24}, "encoding": {"x2": {"field": "col2"}, "y2": {"field": "line2"}}},
        {"data": {"values": [{"col": 6, "col2": 7, "line": 1, "line2": 2}]}, "mark": {"type": "rect", "color": "#f6465d", "cornerRadiusTopLeft": 24, "cornerRadiusTopRight": 24}, "encoding": {"x2": {"field": "col2"}, "y2": {"field": "line2"}}},
        {"data": {"values": [{"col": 5, "line": 3, "label": "买入"}, {"col": 8, "line": 3, "label": "卖出"}]}, "mark": {"type": "text", "fontSize": 36, "fontWeight": 500, "align": "center", "color": "#ffffff", "clip": true}, "encoding": {"text": {"field": "label"}}}
      ]
    },
    {
      "width": 1080,
      "height": 330,
      "resolve": {"scale": {"x": "independent", "y": "independent"}},
      "layer": [
        {
          "encoding": {
            "x": {"field": "col", "type": "quantitative", "axis": null, "scale": {"domain": [0,1,2,3,4,5,6], "range": [81,131,47,885,902,0,1080]}},
            "y": {"field": "line", "type": "quantitative", "axis": null, "scale": {"domain": [0,1,2,3,4,5], "range": [130,129,205,250,306,46]}}
          },
          "layer": [
            {"data": {"values": [{"col": 5, "col2": 6, "line": 5}]}, "mark": {"type": "rule", "color": "#f0f1f2", "strokeWidth": 3, "clip": true}, "encoding": {"x2": {"field": "col2"}}},
            {"data": {"values": [{"col": 0, "line": 0}]}, "mark": {"type": "point", "shape": "M0,-.22L.22,0L0,.22L-.22,0Z M-.78,-.22L-.56,0L-.78,.22L-1,0Z M.78,-.22L1,0L.78,.22L.56,0Z M0,-1L.62,-.38L.4,-.16L0,-.56L-.4,-.16L-.62,-.38Z M0,1L.62,.38L.4,.16L0,.56L-.4,.16L-.62,.38Z", "size": 4900, "filled": true, "color": "#f0b90b", "opacity": 1}},
            {"data": {"values": [{"col": 1, "line": 1, "label": "BINANCE"}]}, "mark": {"type": "text", "fontSize": 60, "fontWeight": "bold", "color": "#f0b90b"}, "encoding": {"text": {"field": "label"}}},
            {"data": {"values": [{"col": 2, "line": 2, "label": "下载币安 App。"}, {"col": 2, "line": 3, "label": "随时随地，开启交易。"}]}, "mark": {"type": "text", "fontSize": 35, "color": "#808080"}, "encoding": {"text": {"field": "label"}}},
            {"data": {"values": [{"col": 3, "line": 4}]}, "mark": {"type": "point", "shape": "M0,-1 L.8,-.4 L.8,.4 L0,1 L-.8,.4 L-.8,-.4Z M-.4,0 A.4,.4 0 1,1 .4,0 A.4,.4 0 1,1 -.4,0Z", "size": 900, "filled": false, "color": "#dddddd", "strokeWidth": 2, "opacity": 1}},
            {"data": {"values": [{"col": 4, "line": 4, "label": "@ YuLiang-Gao"}]}, "mark": {"type": "text", "fontSize": 23, "color": "#d6d6d6"}, "encoding": {"text": {"field": "label"}}}
          ]
        },
        {
          "data": {"name": "qr"},
          "mark": {"type": "bar", "color": "#000"},
          "encoding": {
            "x": {"field": "a", "type": "quantitative", "axis": null, "scale": {"domain": [0, 33], "range": [868, 1010]}},
            "x2": {"field": "b"},
            "y": {"field": "r", "type": "ordinal", "axis": null, "scale": {"type": "band", "paddingInner": 0, "paddingOuter": 0, "range": [117, 260]}}
          }
        }
      ]
    }
  ]
}
